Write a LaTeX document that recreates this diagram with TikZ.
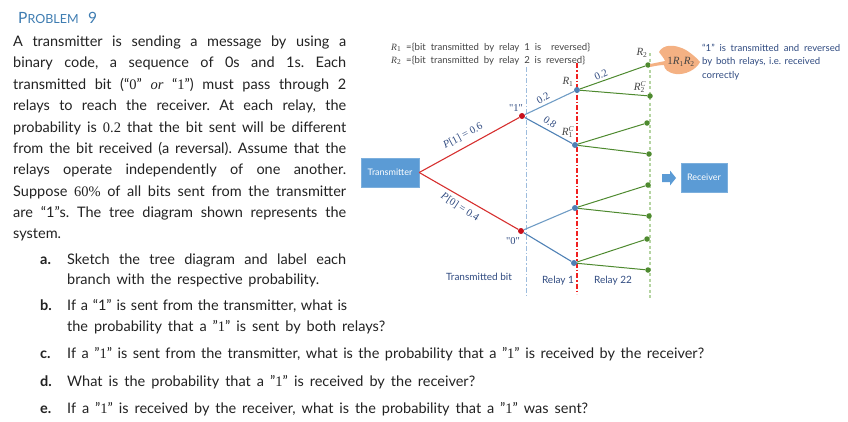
\documentclass[tikz,border=0pt]{standalone}
\usepackage{fontspec}
\setmainfont{Lato}
\newfontfamily\mf{Liberation Serif}
\definecolor{navy}{HTML}{2F4A80}
\definecolor{head}{HTML}{3E7CB1}
\definecolor{redl}{HTML}{D6302F}
\definecolor{redg}{HTML}{F02020}
\definecolor{redd}{HTML}{C8101C}
\definecolor{bluel}{HTML}{4F81B5}
\definecolor{bluet}{HTML}{6F9CC5}
\definecolor{blueg}{HTML}{9DBCDD}
\definecolor{greenl}{HTML}{4E8A2F}
\definecolor{greeng}{HTML}{B5D4A2}
\definecolor{boxb}{HTML}{5B9BD5}
\definecolor{orng}{HTML}{F4B183}
\definecolor{txt}{HTML}{222222}
\definecolor{gtxt}{HTML}{444444}
\newcommand{\jl}[2]{\hbox to #1pt{\frenchspacing\spaceskip=.25em plus 1fil minus .15em\relax #2}}
\newcommand{\Rs}[2]{{\mf\itshape R}$_{\hbox{\fontsize{7.5}{8}\mf #1}}^{\hbox{\fontsize{7.5}{8}\mf\itshape #2}}$}
\newcommand{\Rn}[1]{{\mf\itshape R}$_{\hbox{\fontsize{7.5}{8}\mf #1}}$}
\newcommand{\num}[1]{{\mf #1}}
\tikzset{
 x=1pt,y=-1pt,
 body/.style={inner sep=0pt,anchor=base west,font=\fontsize{14.5}{18}\selectfont,text=txt},
 small/.style={inner sep=0pt,anchor=base west,font=\fontsize{9.6}{10}\selectfont,text=navy},
 lab/.style={inner sep=0pt,font=\fontsize{10.5}{11}\selectfont,text=navy},
 tdark/.style={inner sep=0pt,anchor=base west,font=\fontsize{9.6}{10}\selectfont,text=gtxt},
 rlab/.style={inner sep=0pt,font=\fontsize{11}{12}\selectfont,text=gtxt},
 boxn/.style={fill=boxb,draw=boxb!80!white,text=white,inner sep=0pt,font=\fontsize{9}{10}\selectfont},
 dotr/.style={circle,fill=redd,inner sep=0pt,minimum size=6pt},
 dotb/.style={circle,fill=bluel,inner sep=0pt,minimum size=6pt},
 dotg/.style={circle,fill=greenl,inner sep=0pt,minimum size=5.5pt},
 rl/.style={redl,line width=1.1pt},
 bl/.style={bluel,line width=1.1pt},
 blt/.style={bluet,line width=1.1pt},
 gl/.style={greenl,line width=1pt},
 guide/.style={line width=.9pt,dash pattern=on 5pt off 2pt on 1.5pt off 2pt},
}
\begin{document}
\begin{tikzpicture}
\useasboundingbox (0,0) rectangle (848,421);
% guides
\draw[guide,draw=redg,line width=1.3pt] (577,63) -- (577,294);
\draw[guide,draw=blueg] (526.3,67) -- (526.3,297);
\draw[draw=greeng,dash pattern=on 3pt off 2.5pt,line width=1.3pt] (650,53) -- (650,300);
% boxes
\node[boxn,minimum width=58pt,minimum height=29pt] (tx) at (390,172.5) {Transmitter};
\node[boxn,minimum width=46pt,minimum height=29pt] (rx) at (704,177.5) {Receiver};
\fill[boxb] (662,174) -- (670,174) -- (670,170.5) -- (676,178) -- (670,185.5) -- (670,182) -- (662,182) -- cycle;
% tree nodes
\node[dotr] (one) at (522,116) {};
\node[dotr] (zero) at (521,231) {};
\node[dotb] (ra) at (577,90) {};
\node[dotb] (rb) at (575,145) {};
\node[dotb] (rc) at (575,208) {};
\node[dotb] (rd) at (574,263) {};
\node[dotg] (g1) at (648,65) {};
\node[dotg] (g2) at (650,96) {};
\node[dotg] (g3) at (647,123) {};
\node[dotg] (g4) at (649,154) {};
\node[dotg] (g5) at (648,185) {};
\node[dotg] (g6) at (649,216) {};
\node[dotg] (g7) at (647,239) {};
\node[dotg] (g8) at (648,270) {};
% branches
\draw[rl] (tx.east) -- (one);
\draw[rl] (tx.east) -- (zero);
\draw[blt] (one) -- (ra);
\draw[bl] (one) -- (rb);
\draw[blt] (zero) -- (rc);
\draw[bl] (zero) -- (rd);
\draw[gl] (ra) -- (g1);
\draw[gl] (ra) -- (g2);
\draw[gl] (rb) -- (g3);
\draw[gl] (rb) -- (g4);
\draw[gl] (rc) -- (g5);
\draw[gl] (rc) -- (g6);
\draw[gl] (rd) -- (g7);
\draw[gl] (rd) -- (g8);
% leaf callout
\fill[orng] (659,52) .. controls (663,44) and (675,44) .. (686,50)
  .. controls (692,54) and (697,58) .. (700,62)
  .. controls (696,70) and (685,75) .. (676,74)
  .. controls (668,73) and (664,69) .. (664,65)
  .. controls (660,65) and (655,66) .. (650,67)
  -- (650,64) .. controls (655,63) and (660,62) .. (665,61)
  .. controls (664,58) and (661,55) .. (659,52) -- cycle;
\node[rlab] (call) at (681,62) {{\mf 1}\Rn{1}\Rn{2}};
% branch labels
\node[lab,rotate=28] (p1) at (463,136) {{\mf\itshape P}{\mf [1] = 0.6}};
\node[lab,rotate=-33] (p0) at (460,207) {{\mf\itshape P}{\mf [0] = 0.4}};
\node[lab] (q1) at (516,108) {{\mf "1"}};
\node[lab] (q0) at (513,241) {{\mf "0"}};
\node[lab,rotate=30] (b1) at (543,98) {\num{0.2}};
\node[lab,rotate=-35] (b2) at (550,122) {\num{0.8}};
\node[lab,rotate=24] (b3) at (601,75) {\num{0.2}};
\node[rlab] (l1) at (568,82) {\Rn{1}};
\node[rlab] (l2) at (568,132) {\Rs{1}{C}};
\node[rlab] (l3) at (642,53) {\Rn{2}};
\node[rlab] (l4) at (640,87) {\Rs{2}{C}};
\node[lab,font=\fontsize{10}{11}\selectfont] (t1) at (479,277) {Transmitted bit};
\node[lab,font=\fontsize{10}{11}\selectfont] (t2) at (558,281) {Relay 1};
\node[lab,font=\fontsize{10}{11}\selectfont] (t3) at (613,281) {Relay 22};
% definitions
\node[tdark] (d1) at (391,50) {\jl{199}{\Rn{1} =\{bit transmitted by relay 1 is \ reversed\}}};
\node[tdark] (d2) at (391,63) {\jl{194}{\Rn{2} =\{bit transmitted by relay 2 is reversed\}}};
\node[small] (n1) at (702,51) {\jl{138}{“1” is transmitted and reversed}};
\node[small] (n2) at (702,64) {\jl{118}{by both relays, i.e. received}};
\node[small] (n3) at (702,78) {correctly};
% left text
\node[inner sep=0pt,anchor=base west,font=\fontsize{15.5}{18}\selectfont,text=head] (ti) at (18,23) {\hbox to 79pt{P{\fontsize{12.5}{14}\selectfont ROBLEM}\hfil 9}};
\node[body] at (13,46) {\jl{333}{A transmitter is sending a message by using a}};
\node[body] at (13,67) {\jl{333}{binary code, a sequence of 0s and 1s. Each}};
\node[body] at (13,89) {\jl{333}{transmitted bit (“\num{0}” {\mf\itshape or} “\num{1}”) must pass through 2}};
\node[body] at (13,110) {\jl{333}{relays to reach the receiver. At each relay, the}};
\node[body] at (13,132) {\jl{333}{probability is \num{0.2} that the bit sent will be different}};
\node[body] at (13,153) {\jl{333}{from the bit received (a reversal). Assume that the}};
\node[body] at (13,174) {\jl{333}{relays operate independently of one another.}};
\node[body] at (13,196) {\jl{333}{Suppose \num{60\%} of all bits sent from the transmitter}};
\node[body] at (13,217) {\jl{333}{are “1”s. The tree diagram shown represents the}};
\node[body] at (13,238) {system.};
\node[body] at (40,264) {\textbf{a.}};
\node[body] at (67,264) {\jl{279}{Sketch the tree diagram and label each}};
\node[body] at (67,284) {\jl{252}{branch with the respective probability.}};
\node[body] at (40,310) {\textbf{b.}};
\node[body] at (67,310) {\jl{280}{If a “1” is sent from the transmitter, what is}};
\node[body] at (67,331) {\jl{318}{the probability that a "\num{1}" is sent by both relays?}};
\node[body] at (40,358) {\textbf{c.}};
\node[body] at (67,358) {\jl{637}{If a "\num{1}" is sent from the transmitter, what is the probability that a "\num{1}" is received by the receiver?}};
\node[body] at (40,386) {\textbf{d.}};
\node[body] at (67,386) {\jl{408}{What is the probability that a "\num{1}" is received by the receiver?}};
\node[body] at (40,413) {\textbf{e.}};
\node[body] at (67,413) {\jl{521}{If a "\num{1}" is received by the receiver, what is the probability that a "\num{1}" was sent?}};
\end{tikzpicture}
\end{document}
